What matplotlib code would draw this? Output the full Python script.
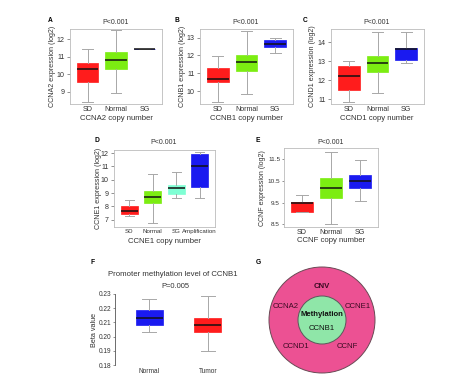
import matplotlib
matplotlib.use('Agg')
import matplotlib.pyplot as plt
from matplotlib.patches import Circle

W, H = 474, 384
plt.rcParams['font.family'] = ['Liberation Sans', 'DejaVu Sans']

# --- box statistics (low whisker, q1, median, q3, high whisker)
a_groups = ['SD', 'Normal', 'SG']
a_low = [8.42, 8.91, 11.42]
a_q1 = [9.55, 10.31, 11.42]
a_med = [10.31, 10.81, 11.42]
a_q3 = [10.66, 11.27, 11.42]
a_high = [11.46, 12.52, 11.42]

b_groups = ['SD', 'Normal', 'SG']
b_low = [9.37, 9.82, 12.12]
b_q1 = [10.53, 11.13, 12.46]
b_med = [10.68, 11.65, 12.63]
b_q3 = [11.30, 12.03, 12.87]
b_high = [11.95, 13.38, 12.97]

c_groups = ['SD', 'Normal', 'SG']
c_low = [10.87, 11.34, 12.94]
c_q1 = [11.48, 12.47, 13.08]
c_med = [12.25, 12.93, 13.65]
c_q3 = [12.75, 13.31, 13.70]
c_high = [13.03, 14.54, 14.57]

d_groups = ['SD', 'Normal', 'SG', 'Amplification']
d_low = [7.30, 6.75, 8.60, 8.65]
d_q1 = [7.45, 8.22, 8.90, 9.45]
d_med = [7.68, 8.70, 9.37, 11.00]
d_q3 = [8.03, 9.12, 9.62, 11.92]
d_high = [8.48, 10.42, 10.60, 12.10]

e_groups = ['SD', 'Normal', 'SG']
e_low = [9.07, 8.53, 9.58]
e_q1 = [9.07, 9.73, 10.16]
e_med = [9.49, 10.19, 10.50]
e_q3 = [9.54, 10.61, 10.77]
e_high = [9.83, 11.82, 11.44]

f_groups = ['Normal', 'Tumor']
f_low = [0.2029, 0.1900]
f_q1 = [0.2083, 0.2029]
f_med = [0.2130, 0.2083]
f_q3 = [0.2189, 0.2130]
f_high = [0.2265, 0.2288]

RED, GREEN, BLUE, AQUA = '#ff1c1c', '#7ced12', '#1a1af0', '#7fffd4'
WHISK = '#a8a8a8'
FRAME = '#bcbcbc'
TXT = '#333333'


def px(x, y):
    return x / W, 1 - y / H


def rect(x0, y0, x1, y1):
    return [x0 / W, 1 - y1 / H, (x1 - x0) / W, (y1 - y0) / H]


def box_panel(ax, groups, low, q1, med, q3, high, colors, ylim, yticks,
              frame=True, width=0.75, capw=0.38, xsize=5.1, ysize=5.1):
    stats = [dict(whislo=l, q1=a, med=m, q3=b, whishi=h, fliers=[])
             for l, a, m, b, h in zip(low, q1, med, q3, high)]
    n = len(groups)
    bp = ax.bxp(stats, positions=range(1, n + 1), widths=width, patch_artist=True,
                capwidths=capw, showfliers=False,
                whiskerprops=dict(color=WHISK, lw=0.7),
                capprops=dict(color=WHISK, lw=0.7),
                medianprops=dict(color='#111111', lw=1.1))
    for patch, col in zip(bp['boxes'], colors):
        patch.set_facecolor(col)
        patch.set_edgecolor(col)
        patch.set_linewidth(0.5)
    pad = 0.04 * n
    ax.set_xlim(0.5 - pad, n + 0.5 + pad)
    ax.set_ylim(*ylim)
    ax.set_yticks(yticks)
    ax.set_xticks(range(1, n + 1))
    ax.set_xticklabels(groups)
    ax.tick_params(axis='x', length=0, pad=1.3, labelsize=xsize, labelcolor=TXT)
    ax.tick_params(axis='y', length=2.2, width=0.5, color='#666666', pad=1.5,
                   labelsize=ysize, labelcolor=TXT)
    for s in ax.spines.values():
        s.set_color(FRAME)
        s.set_linewidth(0.6)
        s.set_visible(frame)


def label(x, y, s, **kw):
    kw.setdefault('fontsize', 5.3)
    kw.setdefault('color', TXT)
    fig.text(*px(x, y), s, ha=kw.pop('ha', 'center'), va=kw.pop('va', 'center'), **kw)


fig = plt.figure(figsize=(W / 100, H / 100), dpi=100)

# A
ax = fig.add_axes(rect(70, 29, 162, 104))
box_panel(ax, a_groups, a_low, a_q1, a_med, a_q3, a_high, [RED, GREEN, BLUE],
          (8.31, 12.57), [9, 10, 11, 12])
label(116, 22, 'P<0.001', fontsize=5.0)
label(116, 118.5, 'CCNA2 copy number', fontsize=5.6)
label(53, 66, 'CCNA2 expression (log2)', rotation=90, fontsize=5.1)
label(50, 20, 'A', fontweight='bold', fontsize=4.8, color='black')

# B
ax = fig.add_axes(rect(200, 29, 293, 104))
box_panel(ax, b_groups, b_low, b_q1, b_med, b_q3, b_high, [RED, GREEN, BLUE],
          (9.27, 13.49), [10, 11, 12, 13])
label(246, 22, 'P<0.001', fontsize=5.0)
label(246, 118.5, 'CCNB1 copy number', fontsize=5.6)
label(182, 66, 'CCNB1 expression (log2)', rotation=90, fontsize=5.1)
label(177, 20, 'B', fontweight='bold', fontsize=4.8, color='black')

# C
ax = fig.add_axes(rect(331, 29, 424, 104))
box_panel(ax, c_groups, c_low, c_q1, c_med, c_q3, c_high, [RED, GREEN, BLUE],
          (10.76, 14.71), [11, 12, 13, 14])
label(377, 22, 'P<0.001', fontsize=5.0)
label(377, 118.5, 'CCND1 copy number', fontsize=5.6)
label(313, 66, 'CCND1 expression (log2)', rotation=90, fontsize=5.1)
label(305, 20, 'C', fontweight='bold', fontsize=4.8, color='black')

# D
ax = fig.add_axes(rect(114, 150, 215, 227))
box_panel(ax, d_groups, d_low, d_q1, d_med, d_q3, d_high, [RED, GREEN, AQUA, BLUE],
          (6.45, 12.23), [7, 8, 9, 10, 11, 12], width=0.72, xsize=4.4)
label(164, 143, 'P<0.001', fontsize=5.0)
label(164, 241.5, 'CCNE1 copy number', fontsize=5.6)
label(98, 188, 'CCNE1 expression (log2)', rotation=90, fontsize=5.1)
label(97, 141, 'D', fontweight='bold', fontsize=4.8, color='black')

# E
ax = fig.add_axes(rect(284, 148, 378, 227))
box_panel(ax, e_groups, e_low, e_q1, e_med, e_q3, e_high, [RED, GREEN, BLUE],
          (8.38, 12.0), [8.5, 9.5, 10.5, 11.5], ysize=4.6)
ax.tick_params(axis='y', length=1.8, pad=1)
label(331, 143, 'P<0.001', fontsize=5.0)
label(331, 241, 'CCNF copy number', fontsize=5.6)
label(262, 188, 'CCNF expression (log2)', rotation=90, fontsize=5.0)
label(258, 141, 'E', fontweight='bold', fontsize=4.8, color='black')

# F
f_ticks = [0.18, 0.19, 0.20, 0.21, 0.22, 0.23]
ax = fig.add_axes(rect(115, 294, 242, 365))
box_panel(ax, f_groups, f_low, f_q1, f_med, f_q3, f_high, [BLUE, RED],
          (0.18, 0.23), f_ticks, frame=False, width=0.46, capw=0.25, xsize=4.7)
ax.spines['left'].set_visible(True)
ax.spines['left'].set_color('#555555')
ax.set_yticklabels([f'{v:.2f}' for v in f_ticks])
ax.tick_params(axis='y', labelsize=4.7, pad=1, length=1.8)
ax.tick_params(axis='x', pad=2)
label(173, 274, 'Promoter methylation level of CCNB1', fontsize=5.6)
label(175, 286, 'P=0.005', fontsize=5.4)
label(95, 330, 'Beta value', rotation=90, fontsize=5.2)
label(93, 262, 'F', fontweight='bold', fontsize=4.8, color='black')

# G: nested circles
axg = fig.add_axes([0, 0, 1, 1], zorder=-1)
axg.set_xlim(0, W)
axg.set_ylim(H, 0)
axg.axis('off')
axg.add_patch(Circle((322, 320), 53, facecolor='#ec5193', edgecolor='#6a4a55', lw=0.7))
axg.add_patch(Circle((322, 320), 24, facecolor='#8fe6a8', edgecolor='#5a5a5a', lw=0.7))
label(258, 263, 'G', fontweight='bold', fontsize=4.8, color='black')
gtxt = '#3a0a22'
label(322, 286, 'CNV', fontweight='bold', fontsize=5.6, color=gtxt)
label(286, 307, 'CCNA2', fontsize=5.6, color=gtxt)
label(358, 307, 'CCNE1', fontsize=5.6, color=gtxt)
label(296, 347, 'CCND1', fontsize=5.6, color=gtxt)
label(347, 347, 'CCNF', fontsize=5.6, color=gtxt)
label(322, 315, 'Methylation', fontweight='bold', fontsize=5.6, color='#111111')
label(322, 328, 'CCNB1', fontsize=5.6, color='#111111')

fig.savefig('out.png', dpi=100, facecolor='white')
